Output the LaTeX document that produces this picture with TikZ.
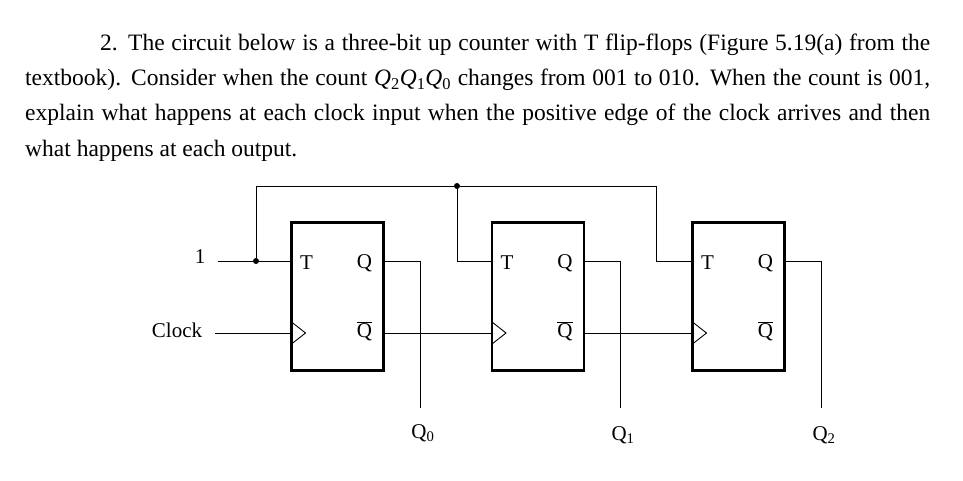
\documentclass[tikz,border=0pt]{standalone}
\usepackage{fontspec}
\setmainfont{Liberation Serif}
\begin{document}
\begin{tikzpicture}[x=1pt,y=-1pt,
  ff/.style={draw,line width=2.6pt,minimum width=92pt,minimum height=148pt,inner sep=0},
  wire/.style={line width=0.9pt},
  dot/.style={circle,fill,inner sep=0,minimum size=6pt},
  lab/.style={font=\fontsize{21}{22}\selectfont,inner sep=0},
  txt/.style={font=\fontsize{23.5}{26}\selectfont,anchor=base west,inner sep=0}]
\useasboundingbox (0,0) rectangle (963,481);
% text
\node[txt] (l1) at (100,51) {\makebox[830pt][s]{2. The circuit below is a three-bit up counter with T flip-flops (Figure 5.19(a) from the}};
\node[txt] (l2) at (25,86) {\makebox[905pt][s]{textbook). Consider when the count \textit{Q}\textsubscript{2}\textit{Q}\textsubscript{1}\textit{Q}\textsubscript{0} changes from 001 to 010. When the count is 001,}};
\node[txt] (l3) at (25,121) {\makebox[905pt][s]{explain what happens at each clock input when the positive edge of the clock arrives and then}};
\node[txt] (l4) at (25,157) {what happens at each output.};
% flip-flops
\foreach \i/\x in {1/337.5,2/538,3/738.5}{
  \node[ff] (f\i) at (\x,296.5) {};
  \node[lab] (t\i) at (\x-31,263) {T};
  \node[lab] (q\i) at (\x+27,263) {Q};
  \node[lab] (qb\i) at (\x+27,331) {$\overline{\mbox{Q}}$};
  \draw[wire] (\x-46,322) -- (\x-32,333) -- (\x-46,344);
  \coordinate (tin\i) at (\x-46,261);
  \coordinate (cin\i) at (\x-46,333);
  \coordinate (qo\i) at (\x+46,261);
  \coordinate (qbo\i) at (\x+46,333);
}
\node[lab] (one) at (200,257) {1};
\node[lab] (clk) at (177,330) {Clock};
\node[lab] (Q0) at (423,433) {Q\textsubscript{0}};
\node[lab] (Q1) at (623,435) {Q\textsubscript{1}};
\node[lab] (Q2) at (824,435) {Q\textsubscript{2}};
\node[dot] (d1) at (256,261) {};
\node[dot] (d2) at (457,186) {};
\draw[wire] (218,261) -- (d1) -- (tin1);
\draw[wire] (d1) -- (256,186) -- (d2) -- (656,186) |- (tin3);
\draw[wire] (d2) |- (tin2);
\draw[wire] (215,333) -- (cin1);
\draw[wire] (qbo1) -- (cin2);
\draw[wire] (qbo2) -- (cin3);
\draw[wire] (qo1) -- (420,261) -- (420,408);
\draw[wire] (qo2) -- (620,261) -- (620,408);
\draw[wire] (qo3) -- (821,261) -- (821,408);
\end{tikzpicture}
\end{document}
